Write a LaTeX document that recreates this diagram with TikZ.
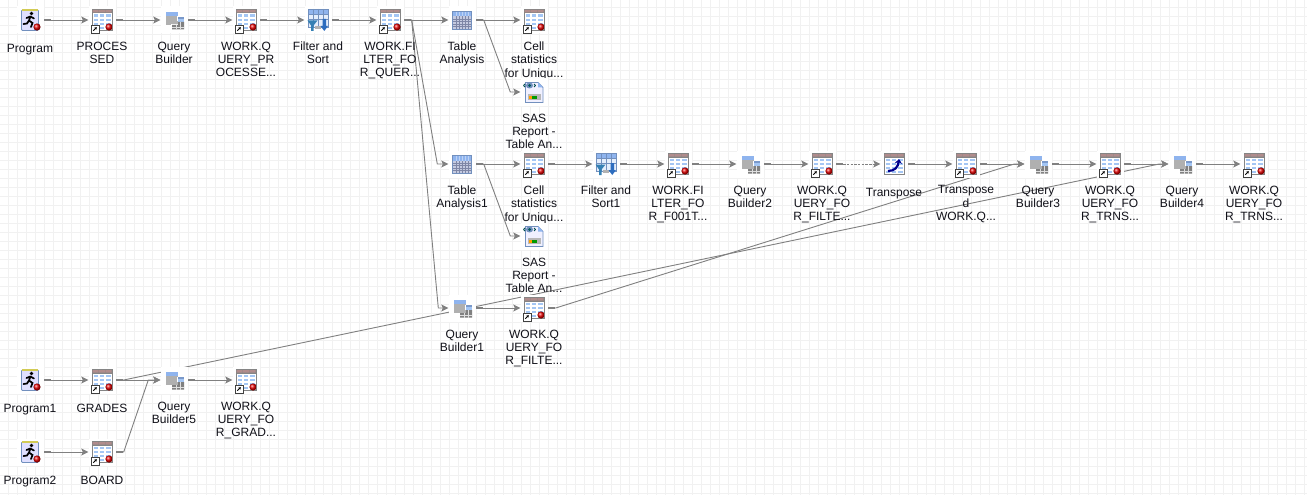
\documentclass[tikz,border=0pt]{standalone}
\usepackage{fontspec}
\setmainfont{Liberation Sans}
\usetikzlibrary{arrows.meta}
\pgfdeclarelayer{under}
\pgfsetlayers{under,main}
\definecolor{connc}{HTML}{808080}
\definecolor{gridc}{HTML}{F1F1F1}
\definecolor{txtc}{HTML}{101018}
\definecolor{cellb}{HTML}{A4C6F4}
\definecolor{headb}{HTML}{B08C8C}
\definecolor{bluei}{HTML}{8FB4EE}
\definecolor{graye}{HTML}{858585}
\definecolor{cardg}{HTML}{B0B0B0}
\definecolor{cardd}{HTML}{808080}
\definecolor{tcell}{HTML}{C4CAE0}
\definecolor{tline}{HTML}{7E86A6}
\definecolor{funnel}{HTML}{3580B4}
\tikzset{
  conn/.style={draw=connc,line width=0.9pt,-{Stealth[length=7pt,width=7pt,inset=1.5pt,fill=connc]}},
  stub/.style={draw=connc,line width=2pt},
  dconn/.style={conn,dash pattern=on 2.5pt off 1.2pt},
  ico/.style={minimum width=27pt,minimum height=27pt,inner sep=0pt,fill=white},
  lab/.style={align=center,anchor=north,inner sep=0pt,font=\fontsize{12}{13.4}\selectfont,text=txtc},
  pics/gridcells/.style args={#1/#2}{code={
    \fill[white] (0,0) rectangle (#1,#2);
    \foreach \i in {0,1,2}{\foreach \j in {0,1,2,3}{
      \fill[cellb] ({\i*#1/3+1},{\j*#2/4+1}) rectangle ({(\i+1)*#1/3-1},{(\j+1)*#2/4-1});}}
  }},
  pics/ball/.style={code={\shade[ball color=red!90!black] (0,0) circle (3.6pt);}},
  pics/shortcut/.style={code={
    \fill[white,draw=black!75,line width=.6pt] (-4,-4) rectangle (4,4);
    \draw[black,line width=1pt,-{Stealth[length=2.5pt,width=3pt]}] (-1.7,1.7) -- (1.8,-1.8);}},
  pics/frameicon/.style={code={
    \fill[graye] (-10.5,-11) rectangle (10.5,11);
    \pic at (-9.5,-6.5) {gridcells=19/16.5};
    \fill[headb] (-9.5,-10) rectangle (-3.5,-7.5) (-3,-10) rectangle (3,-7.5) (3.5,-10) rectangle (9.5,-7.5);}},
  pics/dataicon/.style={code={
    \pic at (0,0) {frameicon};
    \pic at (-7,9) {shortcut};
    \pic at (7,7) {ball};}},
  pics/progicon/.style={code={
    \fill[blue!12!white,draw=bluei!80!black,line width=.8pt,rounded corners=1pt] (-8.5,-10) rectangle (8.5,10.5);
    \fill[yellow!60!gray] (-8,-11) rectangle (8,-9);
    \fill[black] (1.5,-6.5) circle (1.8pt);
    \draw[black,line width=1.7pt,line cap=round] (0.4,-3.5) -- (-1,0.5) -- (2.5,3) -- (1,7) (-1,0.5) -- (-3,3.5) -- (-6.5,4) (0.4,-3.5) -- (-3.5,-2) (0.4,-3.5) -- (4,-1.5);
    \pic at (7,7) {ball};}},
  pics/qbicon/.style={code={
    \fill[bluei] (-8,-8) rectangle (4,-4);
    \fill[cardg] (-8,-4) rectangle (4,5);
    \fill[white] (3,-3.5) rectangle (10.5,1.5);
    \fill[cellb] (4,-3) rectangle (10,2);
    \fill[bluei!85!black] (4,-3) rectangle (10,-1);
    \fill[white] (-3,4.5) rectangle (4,9.5);
    \fill[cardd] (-2,5) rectangle (10,9.5) (4,2) rectangle (10,5);
    \draw[white!75!cardd,line width=.3pt] (2,5) -- (2,9.5) (6,2) -- (6,9.5) (-2,7) -- (10,7);}},
  pics/filticon/.style={code={
    \fill[bluei] (-9.5,-11) rectangle (10.5,-6);
    \fill[cellb!30!white] (-9.5,-6) rectangle (10.5,7);
    \draw[bluei!80!black,line width=.5pt] (-9.5,-11) rectangle (10.5,7);
    \draw[bluei!80!black,line width=.4pt] (-4.5,-11) -- (-4.5,7) (.5,-11) -- (.5,7) (5.5,-11) -- (5.5,7) (-9.5,-6) -- (10.5,-6) (-9.5,-1) -- (10.5,-1);
    \fill[black!30] (-3,6) rectangle (3,9);
    \fill[funnel] (-10.5,0.5) -- (-0.5,0.5) -- (-4.5,5.5) -- (-4.5,11) -- (-7,11) -- (-7,5.5) -- cycle;
    \fill[funnel!85!blue] (4.5,-1) rectangle (8,6) (2.5,6) -- (10,6) -- (6.25,11) -- cycle;}},
  pics/tblicon/.style={code={
    \fill[bluei] (-9.5,-8.5) rectangle (9.5,-3.5);
    \fill[tcell] (-9.5,-3.5) rectangle (9.5,9);
    \foreach \i in {-6,-3,0,3,6}{\draw[tline,line width=.4pt] (\i,-3.5) -- (\i,9);\draw[white!40!bluei,line width=.4pt] (\i,-8.5) -- (\i,-3.5);}
    \foreach \j in {-1,1.5,4,6.5}{\draw[tline,line width=.4pt] (-9.5,\j) -- (9.5,\j);}
    \draw[bluei!80!black,line width=.4pt] (-9.5,-8.5) rectangle (9.5,9);}},
  pics/repicon/.style={code={
    \fill[blue!6!white,draw=bluei!80!black,line width=.9pt] (-8.5,-9.5) -- (4,-9.5) -- (9,-4.5) -- (9,10.5) -- (-8.5,10.5) -- cycle;
    \fill[bluei] (4,-9.5) -- (4,-4.5) -- (9,-4.5) -- cycle;
    \fill[black!28] (-6.5,2) rectangle (6.5,8);
    \fill[orange!75!yellow] (-5,3.5) rectangle (-2,6.5);
    \fill[green!60!black] (-2,3.5) rectangle (3,6.5);
    \fill[bluei!80!black] (-4.5,-6.5) ellipse (3.5pt and 3pt);
    \fill[teal!70!black] (-4.5,-6.5) circle (1.5pt);
    \draw[teal!60!black,line width=.8pt] (-10.5,-6.5) -- (-9,-8) (-10.5,-6.5) -- (-9,-5) (1.5,-6.5) -- (0,-8) (1.5,-6.5) -- (0,-5);}},
  pics/transicon/.style={code={
    \pic at (0,0) {frameicon};
    \draw[blue!55!black,line width=2.2pt,-{Stealth[length=4.5pt,width=7pt]}] (-6,7) .. controls (1,7) and (4,3) .. (5,-5);}},
}
\newcommand{\straight}[2]{\draw[conn] (#1.east) -- (#2.west);\draw[stub] (#1.east) -- ++(7.5,0);}
\newcommand{\dstraight}[2]{\draw[dconn] (#1.east) -- (#2.west);\draw[stub] (#1.east) -- ++(7.5,0);}
\newcommand{\elbow}[3]{\draw[conn] (#1.east) -- ++(8,0) -- ([xshift=#3]#2.west) -- (#2.west);\draw[stub] (#1.east) -- ++(7.5,0);}
\newcommand{\icon}[5]{% name, x, y, pic, label
  \node[ico] (#1) at (#2,#3) {};
  \pic at (#1.center) {#4};
  \node[lab] (#1l) at (#2,#3+21.5) {#5};}
\newcommand{\one}[1]{\rule{0pt}{9pt}\\[-12pt]#1}
\begin{document}
\begin{tikzpicture}[x=1pt,y=-1pt]
\useasboundingbox (0,0) rectangle (1307,495);
\icon{prog}{30}{20}{progicon}{\one{Program}}
\icon{proc}{102}{20}{dataicon}{PROCES\\SED}
\icon{qb}{174}{20}{qbicon}{Query\\Builder}
\icon{wqp}{246}{20}{dataicon}{WORK.Q\\UERY\_PR\\OCESSE...}
\icon{fs}{318}{20}{filticon}{Filter and\\Sort}
\icon{wff}{390}{20}{dataicon}{WORK.FI\\LTER\_FO\\R\_QUER...}
\icon{ta}{462}{20}{tblicon}{Table\\Analysis}
\icon{cs}{534}{20}{dataicon}{Cell\\statistics\\for Uniqu...}
\icon{sr}{534}{92}{repicon}{SAS\\Report -\\Table An...}
\icon{ta1}{462}{164}{tblicon}{Table\\Analysis1}
\icon{cs1}{534}{164}{dataicon}{Cell\\statistics\\for Uniqu...}
\icon{fs1}{606}{164}{filticon}{Filter and\\Sort1}
\icon{wff1}{678}{164}{dataicon}{WORK.FI\\LTER\_FO\\R\_F001T...}
\icon{qb2}{750}{164}{qbicon}{Query\\Builder2}
\icon{wqf}{822}{164}{dataicon}{WORK.Q\\UERY\_FO\\R\_FILTE...}
\icon{tr}{894}{164}{transicon}{\one{Transpose}}
\icon{trd}{966}{164}{dataicon}{Transpose\\d\\WORK.Q...}
\icon{qb3}{1038}{164}{qbicon}{Query\\Builder3}
\icon{wqt}{1110}{164}{dataicon}{WORK.Q\\UERY\_FO\\R\_TRNS...}
\icon{qb4}{1182}{164}{qbicon}{Query\\Builder4}
\icon{wqt2}{1254}{164}{dataicon}{WORK.Q\\UERY\_FO\\R\_TRNS...}
\icon{sr1}{534}{236}{repicon}{SAS\\Report -\\Table An...}
\icon{qb1}{462}{308}{qbicon}{Query\\Builder1}
\icon{wqf1}{534}{308}{dataicon}{WORK.Q\\UERY\_FO\\R\_FILTE...}
\icon{prog1}{30}{380}{progicon}{\one{Program1}}
\icon{gr}{102}{380}{dataicon}{\one{GRADES}}
\icon{qb5}{174}{380}{qbicon}{Query\\Builder5}
\icon{wqg}{246}{380}{dataicon}{WORK.Q\\UERY\_FO\\R\_GRAD...}
\icon{prog2}{30}{452}{progicon}{\one{Program2}}
\icon{bd}{102}{452}{dataicon}{\one{BOARD}}
\begin{pgfonlayer}{under}
\fill[white] (0,0) rectangle (1307,495);
\begin{scope}[gridc,line width=1pt]
\foreach \x in {0,...,144}{\draw ({8.5+9*\x},0) -- ({8.5+9*\x},495);}
\foreach \y in {0,...,54}{\draw (0,{7.5+9*\y}) -- (1307,{7.5+9*\y});}
\end{scope}
\straight{prog}{proc}\straight{proc}{qb}\straight{qb}{wqp}\straight{wqp}{fs}\straight{fs}{wff}\straight{wff}{ta}
\straight{ta}{cs}\elbow{ta}{sr}{-10}
\elbow{wff}{ta1}{-11}\elbow{wff}{qb1}{-10}
\straight{ta1}{cs1}\elbow{ta1}{sr1}{-10}
\straight{cs1}{fs1}\straight{fs1}{wff1}\straight{wff1}{qb2}\straight{qb2}{wqf}\dstraight{wqf}{tr}\straight{tr}{trd}\straight{trd}{qb3}\straight{qb3}{wqt}\straight{wqt}{qb4}\straight{qb4}{wqt2}
\straight{qb1}{wqf1}\elbow{wqf1}{qb3}{-10}
\straight{prog1}{gr}\straight{gr}{qb5}\straight{qb5}{wqg}\straight{prog2}{bd}\elbow{bd}{qb5}{-12}
\elbow{gr}{qb4}{-9}
\end{pgfonlayer}
\end{tikzpicture}
\end{document}
